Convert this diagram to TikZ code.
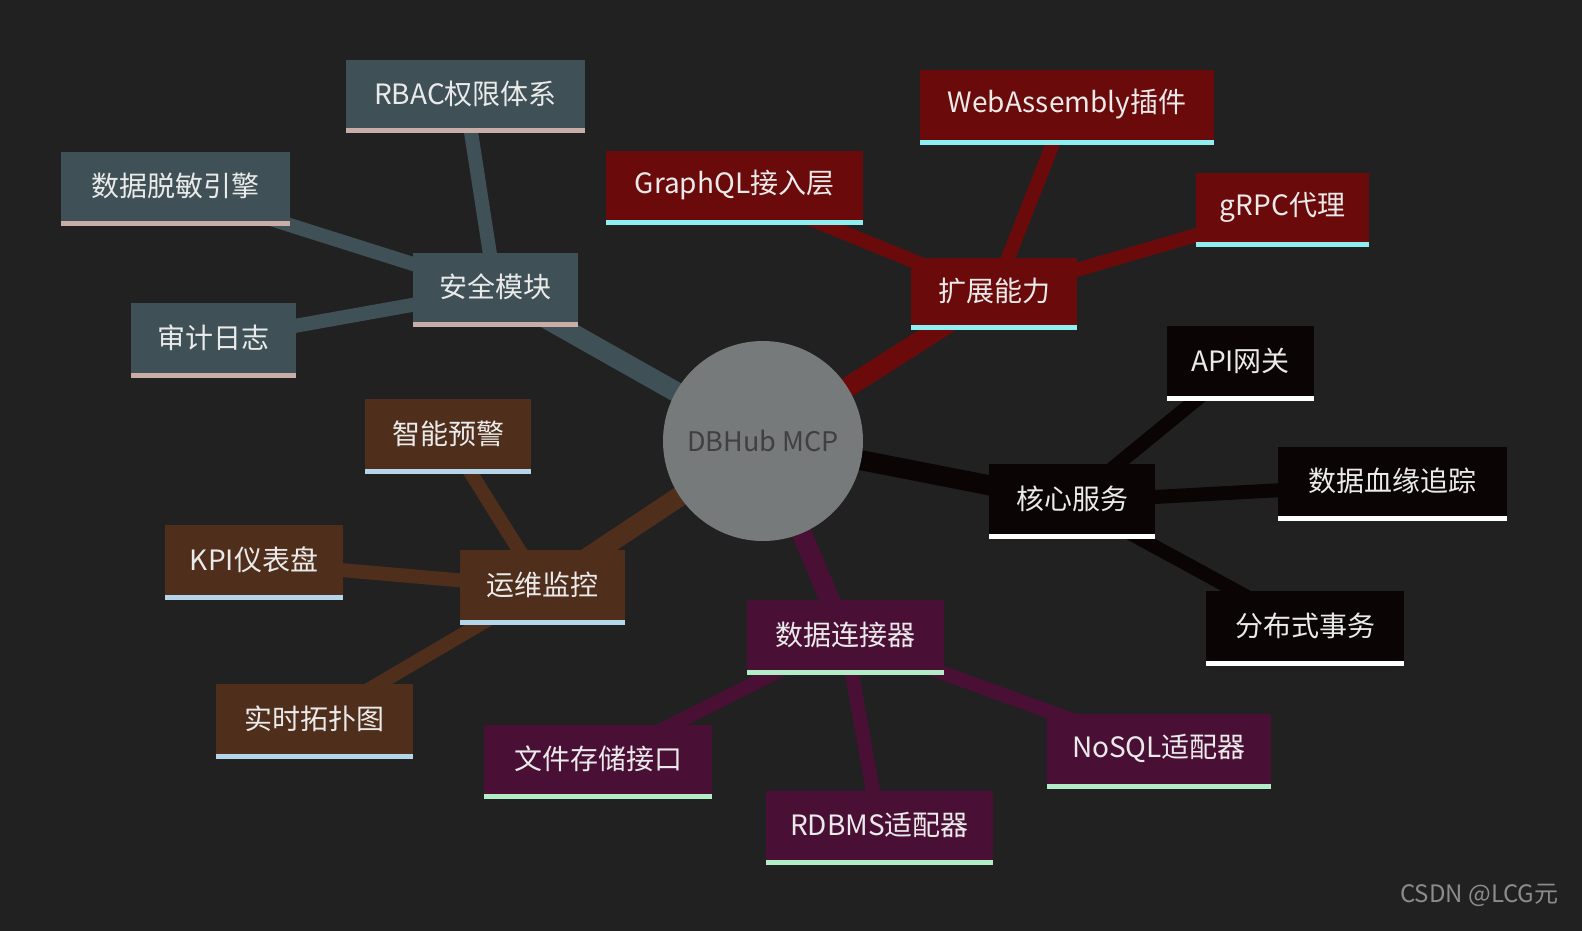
\documentclass[tikz,border=0pt]{standalone}
\usepackage{fontspec}
\setmainfont{Noto Sans CJK SC}
\definecolor{bg}{HTML}{212121}
\definecolor{sec}{HTML}{3F5157}\definecolor{secl}{HTML}{C9AEA8}
\definecolor{ext}{HTML}{6B0A0A}\definecolor{extl}{HTML}{8EEFF0}
\definecolor{core}{HTML}{0A0404}\definecolor{corel}{HTML}{FFFFFF}
\definecolor{con}{HTML}{4A0F35}\definecolor{conl}{HTML}{B2EDC8}
\definecolor{ops}{HTML}{4F2E1C}\definecolor{opsl}{HTML}{B4D6EA}
\definecolor{ctr}{HTML}{767A7A}
\definecolor{txt}{HTML}{EAEAEA}
\newcommand{\bxc}[5]{\coordinate (#1) at ({(#2+#4)/2},{(#3+#5)/2});}
\newcommand{\bx}[8]{%
 \fill[#6] (#2,#3) rectangle (#4,#5);
 \fill[#7] (#2,#5-5) rectangle (#4,#5);
 \node[text=txt,font=\fontsize{28}{32}\selectfont] (#1t) at ({(#2+#4)/2},{(#3+#5)/2-3}) {#8};}
\begin{document}
\begin{tikzpicture}[x=1pt,y=-1pt]
\fill[bg] (0,0) rectangle (1582,931);
\useasboundingbox (0,0) rectangle (1582,931);
\coordinate (c) at (763,441);
\bxc{s}{413}{253}{578}{327}\bxc{s1}{346}{60}{585}{133}\bxc{s2}{61}{152}{290}{226}\bxc{s3}{131}{303}{296}{378}
\bxc{e}{911}{258}{1077}{330}\bxc{e1}{606}{151}{863}{225}\bxc{e2}{920}{70}{1214}{145}\bxc{e3}{1196}{173}{1369}{247}
\bxc{k}{989}{464}{1155}{539}\bxc{k1}{1167}{326}{1314}{401}\bxc{k2}{1278}{447}{1507}{521}\bxc{k3}{1206}{591}{1404}{666}
\bxc{d}{747}{600}{944}{675}\bxc{d1}{484}{725}{712}{799}\bxc{d2}{766}{791}{993}{865}\bxc{d3}{1047}{714}{1271}{789}
\bxc{o}{460}{550}{625}{625}\bxc{o1}{365}{399}{531}{474}\bxc{o2}{165}{525}{343}{600}\bxc{o3}{216}{684}{413}{759}
\foreach \m/\col in {s/sec,e/ext,k/core,d/con,o/ops}{
 \draw[\col,line width=20pt] (c) -- (\m);
 \foreach \i in {1,2,3}{\draw[\col,line width=14pt] (\m) -- (\m\i);}}
\fill[ctr] (c) circle (100);
\node[text=black!75,font=\fontsize{27}{30}\selectfont] (ct) at (c) {DBHub MCP};
\bx{s}{413}{253}{578}{327}{sec}{secl}{安全模块}
\bx{s1}{346}{60}{585}{133}{sec}{secl}{RBAC权限体系}
\bx{s2}{61}{152}{290}{226}{sec}{secl}{数据脱敏引擎}
\bx{s3}{131}{303}{296}{378}{sec}{secl}{审计日志}
\bx{e}{911}{258}{1077}{330}{ext}{extl}{扩展能力}
\bx{e1}{606}{151}{863}{225}{ext}{extl}{GraphQL接入层}
\bx{e2}{920}{70}{1214}{145}{ext}{extl}{WebAssembly插件}
\bx{e3}{1196}{173}{1369}{247}{ext}{extl}{gRPC代理}
\bx{k}{989}{464}{1155}{539}{core}{corel}{核心服务}
\bx{k1}{1167}{326}{1314}{401}{core}{corel}{API网关}
\bx{k2}{1278}{447}{1507}{521}{core}{corel}{数据血缘追踪}
\bx{k3}{1206}{591}{1404}{666}{core}{corel}{分布式事务}
\bx{d}{747}{600}{944}{675}{con}{conl}{数据连接器}
\bx{d1}{484}{725}{712}{799}{con}{conl}{文件存储接口}
\bx{d2}{766}{791}{993}{865}{con}{conl}{RDBMS适配器}
\bx{d3}{1047}{714}{1271}{789}{con}{conl}{NoSQL适配器}
\bx{o}{460}{550}{625}{625}{ops}{opsl}{运维监控}
\bx{o1}{365}{399}{531}{474}{ops}{opsl}{智能预警}
\bx{o2}{165}{525}{343}{600}{ops}{opsl}{KPI仪表盘}
\bx{o3}{216}{684}{413}{759}{ops}{opsl}{实时拓扑图}
\node[text=black!45,font=\fontsize{24}{28}\selectfont,anchor=east] (wm) at (1562,895) {CSDN @LCG元};
\end{tikzpicture}
\end{document}
